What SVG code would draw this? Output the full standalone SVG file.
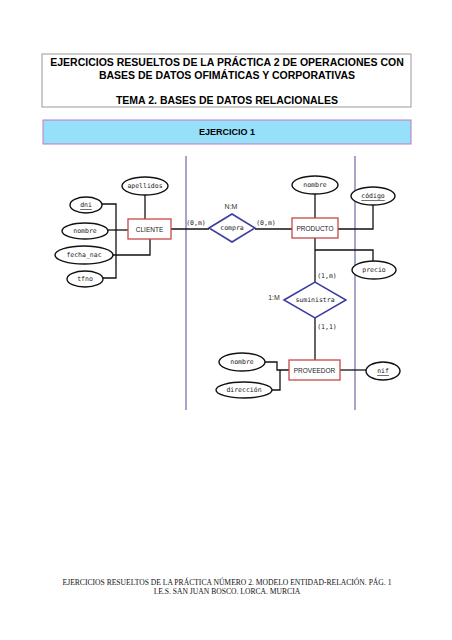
<svg xmlns="http://www.w3.org/2000/svg" width="452" height="640" viewBox="0 0 452 640">
<style>
.hdr{font-family:"Liberation Sans",Arial,sans-serif;font-weight:bold;fill:#000;text-anchor:middle}
.mono{font-family:"DejaVu Sans Mono","Liberation Mono",monospace;font-size:6.5px;fill:#222;text-anchor:middle;dominant-baseline:central}
.ent{fill:#fff;stroke:#c84848;stroke-width:1.3}
.entt{font-family:"Liberation Sans",Arial,sans-serif;font-size:6.5px;fill:#222;text-anchor:middle;dominant-baseline:central}
.rel{fill:#fff;stroke:#3a3aa0;stroke-width:1.5}
.att{fill:#fff;stroke:#111;stroke-width:1.4}
.card{font-family:"Liberation Sans",Arial,sans-serif;font-size:7px;fill:#333;text-anchor:middle;dominant-baseline:central}
.con{fill:none;stroke:#111;stroke-width:1.3}
.sep{stroke:#6a6aaa;stroke-width:1.2}
.foot{font-family:"Liberation Serif","Times New Roman",serif;font-size:7.6px;fill:#111;text-anchor:middle}
</style>
<rect width="452" height="640" fill="#fff"/>
<g id="header">
<rect x="42" y="54" width="369" height="53" fill="#fff" stroke="#9a9a9a" stroke-width="1"/>
<text class="hdr" x="227" y="66" font-size="10.5">EJERCICIOS RESUELTOS DE LA PRÁCTICA 2 DE OPERACIONES CON</text>
<text class="hdr" x="227" y="79" font-size="10.5">BASES DE DATOS OFIMÁTICAS Y CORPORATIVAS</text>
<text class="hdr" x="227" y="104" font-size="10.5">TEMA 2. BASES DE DATOS RELACIONALES</text>
</g>
<g id="ejercicio">
<rect x="43" y="120" width="368" height="24" fill="#96e0fa" stroke="#c07ac0" stroke-width="1"/>
<text class="hdr" x="227" y="135" font-size="9">EJERCICIO 1</text>
</g>
<g id="separators">
<line class="sep" x1="186" y1="156" x2="186" y2="410"/>
<line class="sep" x1="355" y1="156" x2="355" y2="410"/>
</g>
<g id="connectors">
<path class="con" d="M102,204 H116 V278 H103"/>
<path class="con" d="M108,230 H128"/>
<path class="con" d="M113,255 H150 V239"/>
<path class="con" d="M145,195 V219"/>
<path class="con" d="M171,229 H209"/>
<path class="con" d="M255,229 H292"/>
<path class="con" d="M315,194 V218"/>
<path class="con" d="M338,229 H373 V205"/>
<path class="con" d="M315,238 V282"/>
<path class="con" d="M315,250 H373 V261"/>
<path class="con" d="M315,318 V360"/>
<path class="con" d="M265,362 H277 V370 H289"/>
<path class="con" d="M272,390 H280 V370"/>
<path class="con" d="M340,370 H366"/>
</g>
<g id="cliente">
<rect class="ent" x="128" y="219" width="43" height="20"/>
<text class="entt" x="149.5" y="229">CLIENTE</text>
</g>
<g id="cliente-apellidos">
<ellipse class="att" cx="145" cy="186" rx="23" ry="9"/>
<text class="mono" x="145" y="186">apellidos</text>
</g>
<g id="cliente-dni">
<ellipse class="att" cx="86" cy="205" rx="16" ry="8"/>
<text class="mono" x="86" y="205" text-decoration="underline">dni</text>
</g>
<g id="cliente-nombre">
<ellipse class="att" cx="85" cy="231" rx="23" ry="8"/>
<text class="mono" x="85" y="231">nombre</text>
</g>
<g id="cliente-fecha_nac">
<ellipse class="att" cx="84" cy="255" rx="29" ry="9"/>
<text class="mono" x="84" y="255">fecha_nac</text>
</g>
<g id="cliente-tfno">
<ellipse class="att" cx="85" cy="279" rx="18" ry="8"/>
<text class="mono" x="85" y="279">tfno</text>
</g>
<g id="compra">
<polygon class="rel" points="209,228 232,214 255,228 232,242"/>
<text class="mono" x="232" y="228">compra</text>
<text class="card" x="231" y="206">N:M</text>
<text class="mono" x="196" y="223">(0,m)</text>
<text class="mono" x="266" y="223">(0,m)</text>
</g>
<g id="producto">
<rect class="ent" x="292" y="218" width="46" height="20"/>
<text class="entt" x="315" y="228">PRODUCTO</text>
</g>
<g id="producto-nombre">
<ellipse class="att" cx="315" cy="185" rx="23" ry="9"/>
<text class="mono" x="315" y="185">nombre</text>
</g>
<g id="producto-codigo">
<ellipse class="att" cx="373" cy="196" rx="22" ry="9"/>
<text class="mono" x="373" y="196" text-decoration="underline">código</text>
</g>
<g id="producto-precio">
<ellipse class="att" cx="374" cy="270" rx="22" ry="9"/>
<text class="mono" x="374" y="270">precio</text>
</g>
<g id="suministra">
<polygon class="rel" points="284,300 315,282 346,300 315,318"/>
<text class="mono" x="315" y="300">suministra</text>
<text class="card" x="274" y="297">1:M</text>
<text class="mono" x="327" y="276">(1,m)</text>
<text class="mono" x="327" y="327">(1,1)</text>
</g>
<g id="proveedor">
<rect class="ent" x="289" y="360" width="51" height="20"/>
<text class="entt" x="314.5" y="370">PROVEEDOR</text>
</g>
<g id="proveedor-nombre">
<ellipse class="att" cx="242" cy="362" rx="23" ry="9"/>
<text class="mono" x="242" y="362">nombre</text>
</g>
<g id="proveedor-direccion">
<ellipse class="att" cx="244" cy="390" rx="28" ry="8"/>
<text class="mono" x="244" y="390">dirección</text>
</g>
<g id="proveedor-nif">
<ellipse class="att" cx="383" cy="371" rx="17" ry="9"/>
<text class="mono" x="383" y="371" text-decoration="underline">nif</text>
</g>
<g id="footer">
<text class="foot" x="227" y="585">EJERCICIOS RESUELTOS DE LA PRÁCTICA NÚMERO 2. MODELO ENTIDAD-RELACIÓN. PÁG. 1</text>
<text class="foot" x="227" y="594">I.E.S. SAN JUAN BOSCO. LORCA. MURCIA</text>
</g>
</svg>
